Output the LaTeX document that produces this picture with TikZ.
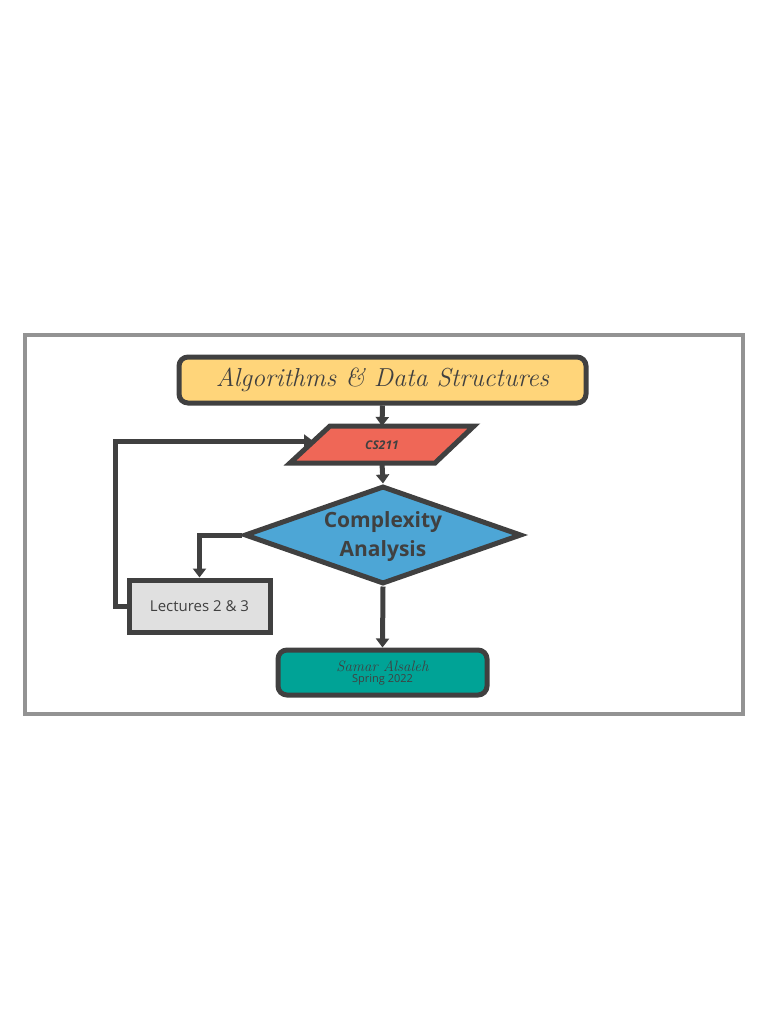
\documentclass[tikz,border=0pt]{standalone}
\usepackage{fontspec}
\setmainfont{Open Sans}
\usetikzlibrary{arrows.meta,shapes.geometric}
\definecolor{ink}{HTML}{404040}
\definecolor{cyel}{HTML}{FFD57A}
\definecolor{cred}{HTML}{EF6757}
\definecolor{cblue}{HTML}{4DA6D6}
\definecolor{cgray}{HTML}{E0E0E0}
\definecolor{cteal}{HTML}{00A396}
\begin{document}
\begin{tikzpicture}[x=1pt,y=-1pt,
  box/.style={draw=ink,line width=5pt,inner sep=0pt},
  conn/.style={draw=ink,line width=5pt,-{Triangle[length=9pt,width=13pt]}}]
\useasboundingbox (0,0) rectangle (768,1024);
\draw[draw=gray!85,line width=3.5pt] (25,335) rectangle (743,714);
\node[box,rounded corners=9pt,fill=cyel,minimum width=407pt,minimum height=46pt] (title) at (382.5,380)
  {\fontspec{Latin Modern Roman}\itshape\fontsize{26}{28}\selectfont\color{ink}Algorithms \& Data Structures};
\coordinate (pa) at (330,426); \coordinate (pb) at (474,426);
\coordinate (pc) at (435,463); \coordinate (pd) at (290,463);
\draw[box,fill=cred,line join=miter] (pa)--(pb)--(pc)--(pd)--cycle;
\node (cs) at (382,445) {\bfseries\itshape\fontsize{12}{14}\selectfont\color{ink}CS211};
\coordinate (ptop) at (382,426); \coordinate (pbot) at (382,463);
\coordinate (pleft) at (313,441);
\node[box,diamond,fill=cblue,minimum width=277pt,minimum height=98pt,aspect=2.8] (dec) at (383,535) {};
\node[align=center,font=\bfseries\fontsize{21}{29}\selectfont,text=ink] at (383,537) {Complexity\\Analysis};
\node[box,fill=cgray,minimum width=141pt,minimum height=52pt] (lec) at (199.5,606)
  {\fontsize{15}{17}\selectfont\color{ink}Lectures 2 \& 3};
\node[box,rounded corners=9pt,fill=cteal,minimum width=209pt,minimum height=45pt,align=center] (fin) at (382.5,672.5)
  {\fontspec{Latin Modern Roman}\itshape\fontsize{15}{15}\selectfont\color{ink}Samar Alsaleh\\[-1pt]\fontsize{11}{12}\selectfont\color{ink}Spring 2022};
\draw[conn] (title.south) -- (ptop);
\draw[conn] (pbot) -- (dec.north);
\draw[conn] (dec.west) -| (lec.north);
\draw[conn] (dec.south) -- (fin.north);
\draw[conn] (lec.west) -- ++(-11,0) |- (pleft);
\end{tikzpicture}
\end{document}
